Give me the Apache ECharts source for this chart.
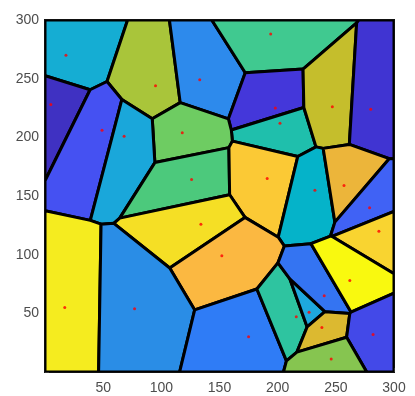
<!DOCTYPE html>
<html>
<head>
<meta charset="utf-8">
<script src="https://cdn.jsdelivr.net/npm/echarts@6/dist/echarts.min.js"></script>
<style>html,body{margin:0;padding:0;background:#fff;}#c{width:415px;height:396px;}</style>
</head>
<body>
<div id="c"></div>
<script>
// Seed points (x, y) and cell colours
var seedX = [18, 5, 95, 133, 194, 198, 202, 247, 280, 118, 49, 68, 126, 191, 232, 257, 279, 287, 134, 152, 17, 77, 175, 216, 227, 240, 262, 238, 282, 246];
var seedY = [270, 228, 244, 249, 288, 225, 212, 226, 224, 204, 206, 201, 164, 165, 155, 159, 140, 120, 126, 99, 55, 54, 30, 47, 51, 65, 78, 38, 32, 11];
var cellColors = ['#15ADD3', '#3F31C2', '#A9C53A', '#2D8AEC', '#40C990', '#4437DA', '#1FBFAC', '#C5BE2C', '#4034D2', '#6ECC62',
                  '#4551F2', '#1AA7DA', '#4CC97C', '#FBC935', '#05B3C9', '#ECB53A', '#4062F5', '#F9D430', '#F5DF25', '#FBB841',
                  '#F5EC1F', '#2A8DE6', '#2F7CF6', '#2EC4A0', '#1EA8DD', '#3474F2', '#F9F90F', '#DCB930', '#4349E8', '#86C550'];
var xTicks = [0, 50, 100, 150, 200, 250, 300];
var axisMin = 0, axisMax = 300;

// Voronoi cells by half-plane clipping of the axis box
function clip(poly, a, b, c) { // keep a*x + b*y <= c
  var out = [];
  for (var k = 0; k < poly.length; k++) {
    var P = poly[k], Q = poly[(k + 1) % poly.length];
    var fp = a * P[0] + b * P[1] - c, fq = a * Q[0] + b * Q[1] - c;
    if (fp <= 0) out.push(P);
    if ((fp < 0 && fq > 0) || (fp > 0 && fq < 0)) {
      var t = fp / (fp - fq);
      out.push([P[0] + t * (Q[0] - P[0]), P[1] + t * (Q[1] - P[1])]);
    }
  }
  return out;
}
var cells = [];
for (var i = 0; i < seedX.length; i++) {
  var poly = [[axisMin, axisMin], [axisMax, axisMin], [axisMax, axisMax], [axisMin, axisMax]];
  for (var j = 0; j < seedX.length; j++) {
    if (i === j) continue;
    var a = seedX[j] - seedX[i], b = seedY[j] - seedY[i];
    var mx = (seedX[i] + seedX[j]) / 2, my = (seedY[i] + seedY[j]) / 2;
    poly = clip(poly, a, b, a * mx + b * my);
  }
  cells.push(poly);
}

var chart = echarts.init(document.getElementById('c'), null, {renderer: 'canvas'});
var labelStyle = {color: '#4D4D4D', fontSize: 14, fontFamily: 'Liberation Sans, Arial, sans-serif'};
chart.setOption({
  animation: false,
  backgroundColor: '#fff',
  grid: {left: 45, top: 20, right: 21, bottom: 24, show: true, borderColor: '#111', borderWidth: 2, backgroundColor: 'transparent'},
  xAxis: {
    type: 'value', min: axisMin, max: axisMax, interval: 50,
    axisLine: {show: false},
    axisTick: {show: true, inside: true, length: 4, lineStyle: {color: '#333'}},
    splitLine: {show: false},
    axisLabel: Object.assign({margin: 9, formatter: function (v) { return v === 0 ? '' : String(v); }}, labelStyle)
  },
  yAxis: {
    type: 'value', min: axisMin, max: axisMax, interval: 50,
    axisLine: {show: false},
    axisTick: {show: true, inside: true, length: 4, lineStyle: {color: '#333'}},
    splitLine: {show: false},
    axisLabel: Object.assign({margin: 6, formatter: function (v) { return v === 0 ? '' : String(v); }}, labelStyle)
  },
  series: [
    {
      type: 'custom',
      clip: true,
      data: seedX.map(function (x, i) { return [x, seedY[i], i]; }),
      renderItem: function (params, api) {
        var idx = api.value(2);
        var pts = cells[idx].map(function (p) { return api.coord(p); });
        return {
          type: 'polygon',
          shape: {points: pts},
          style: {fill: cellColors[idx], stroke: '#000', lineWidth: 3, lineJoin: 'round'}
        };
      },
      z: 1
    },
    {
      type: 'scatter',
      data: seedX.map(function (x, i) { return [x, seedY[i]]; }),
      symbolSize: 3,
      itemStyle: {color: '#FF0000'},
      z: 3
    }
  ]
});
</script>
</body>
</html>
